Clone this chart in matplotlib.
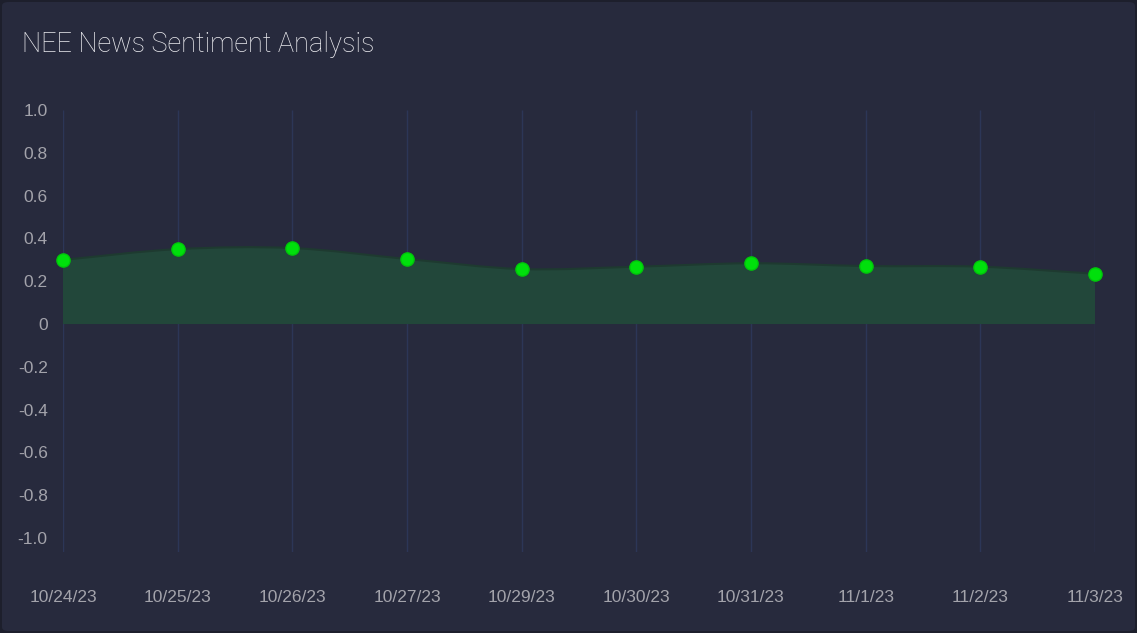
import numpy as np
import matplotlib.pyplot as plt
from matplotlib.path import Path
from matplotlib.patches import PathPatch, FancyBboxPatch

dates = ['10/24/23', '10/25/23', '10/26/23', '10/27/23', '10/29/23',
         '10/30/23', '10/31/23', '11/1/23', '11/2/23', '11/3/23']
sentiment = [0.30, 0.35, 0.355, 0.304, 0.257, 0.268, 0.284, 0.271, 0.268, 0.235]
yticks = [1.0, 0.8, 0.6, 0.4, 0.2, 0, -0.2, -0.4, -0.6, -0.8, -1.0]
ylabels = ['1.0', '0.8', '0.6', '0.4', '0.2', '0', '-0.2', '-0.4', '-0.6', '-0.8', '-1.0']

bg = '#272a3d'
txt = '#a3a3ab'

W, H = 1137, 633
fig = plt.figure(figsize=(W / 100, H / 100), dpi=100)
fig.patch.set_facecolor('#1d1f2c')
fig.patches.append(FancyBboxPatch((2 / W, 2 / H), 1 - 4 / W, 1 - 4 / H,
                                  boxstyle='round,pad=0,rounding_size=0.006',
                                  transform=fig.transFigure, facecolor=bg,
                                  edgecolor='none', zorder=-5))

left, right, top, bottom = 63, 1095, 110, 552
ax = fig.add_axes([left / W, 1 - bottom / H, (right - left) / W, (bottom - top) / H])
ax.set_facecolor('none')
x = np.arange(len(sentiment))
ax.set_xlim(0, len(sentiment) - 1)
ax.set_ylim(-1.065, 1.0)
for s in ax.spines.values():
    s.set_visible(False)

# smooth curve as cubic bezier segments through the data points
y = np.array(sentiment, dtype=float)
d = np.zeros_like(y)
d[1:-1] = (y[2:] - y[:-2]) / 2
d[0] = y[1] - y[0]
d[-1] = y[-1] - y[-2]
verts = [(x[0], y[0])]
codes = [Path.MOVETO]
for i in range(len(y) - 1):
    verts += [(x[i] + 1 / 3, y[i] + d[i] / 3),
              (x[i + 1] - 1 / 3, y[i + 1] - d[i + 1] / 3),
              (x[i + 1], y[i + 1])]
    codes += [Path.CURVE4] * 3
line_path = Path(verts, codes)
fill_path = Path(verts + [(x[-1], 0), (x[0], 0), (x[0], y[0])],
                 codes + [Path.LINETO, Path.LINETO, Path.CLOSEPOLY])
ax.add_patch(PathPatch(fill_path, facecolor='#22473a', edgecolor='none', zorder=2))
ax.add_patch(PathPatch(line_path, facecolor='none', edgecolor='#1e3a30', lw=1.5, zorder=3))

ax.vlines(x, -1.065, 1.0, color='#2e3b60', lw=1, alpha=0.75, zorder=1)
ax.plot(x, y, 'o', color='#00e00c', markeredgecolor='#00c80a', markersize=9.5,
        zorder=4, clip_on=False)

ax.set_yticks(yticks)
ax.set_yticklabels(ylabels)
ax.set_xticks(x)
ax.set_xticklabels(dates)
ax.tick_params(axis='both', length=0, colors=txt, labelsize=12.5)
ax.tick_params(axis='y', pad=11)
ax.tick_params(axis='x', pad=27)
for lab in ax.get_xticklabels() + ax.get_yticklabels():
    lab.set_family(['Liberation Sans', 'DejaVu Sans'])

fig.text(22 / W, 1 - 52 / H, 'NEE News Sentiment Analysis', color='#ececf0',
         fontsize=19.5, family=['Roboto', 'DejaVu Sans'], fontweight='light')

fig.savefig('out.png', dpi=100, facecolor=fig.get_facecolor())
